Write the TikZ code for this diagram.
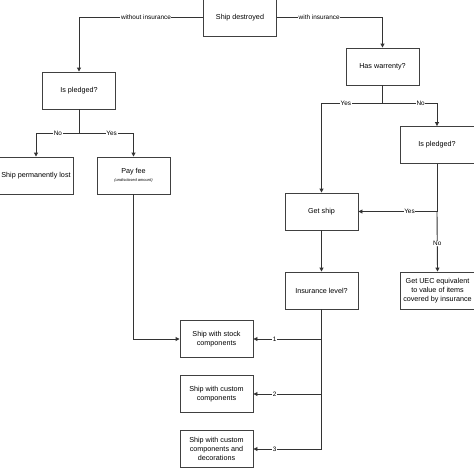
\documentclass[tikz,border=0pt]{standalone}
\usepackage{fontspec}
\setmainfont{Liberation Sans}
\usetikzlibrary{arrows.meta,calc}
\begin{document}
\begin{tikzpicture}[x=1pt,y=-1pt,
  box/.style={draw=black!75, line width=0.9pt, fill=white, minimum width=73pt, minimum height=37pt,
    inner sep=1pt, align=center, font=\fontsize{7.2}{9}\selectfont},
  conn/.style={draw=black!80, line width=0.9pt},
  arr/.style={conn, -{Triangle[length=4pt,width=4pt]}},
  lbl/.style={fill=white, inner sep=0.6pt, font=\fontsize{6.4}{7}\selectfont}]
\useasboundingbox (0,0) rectangle (474,467);
\fill[white] (0,0) rectangle (474,467);
\node[box] (sd) at (240,17.5) {Ship destroyed};
\node[box] (ip1) at (79,90.5) {Is pledged?};
\node[box] (hw) at (382.5,66.5) {Has warrenty?};
\node[box, minimum width=74pt] (spl) at (36,175.5) {Ship permanently lost};
\node[box] (pf) at (133.5,175.5) {Pay fee\\[-1pt]{\fontsize{4}{5}\selectfont\itshape (undisclosed amount)}};
\node[box, minimum width=74pt] (ip2) at (437,145) {Is pledged?};
\node[box] (gs) at (321.5,211.5) {Get ship};
\node[box] (il) at (321.5,290.5) {Insurance level?};
\node[box, minimum width=74pt] (uec) at (437.5,290.5) {Get UEC equivalent\\to value of items\\covered by insurance};
\node[box] (s1) at (216.5,339) {Ship with stock\\components};
\node[box] (s2) at (216.5,394) {Ship with custom\\components};
\node[box] (s3) at (216.5,449) {Ship with custom\\components and\\decorations};

\draw[arr] (sd.west) -| node[lbl,pos=0.23]{without insurance} (ip1.north);
\draw[arr] (sd.east) -| node[lbl,pos=0.2]{with insurance} (hw.north);

\coordinate (j1) at ($(ip1.south)+(0,24)$);
\draw[conn] (ip1.south) -- (j1);
\draw[arr] (j1) -| node[lbl,pos=0.245]{No} (spl.north);
\draw[arr] (j1) -| node[lbl,pos=0.3]{Yes} (pf.north);

\coordinate (j2) at ($(hw.south)+(0,18)$);
\draw[conn] (hw.south) -- (j2);
\draw[arr] (j2) -| node[lbl,pos=0.3]{Yes} (gs.north);
\draw[arr] (j2) -| node[lbl,pos=0.35]{No} (ip2.north);

\coordinate (j3) at (ip2.south |- gs.east);
\draw[conn] (ip2.south) -- (j3);
\draw[arr] (j3) -- node[lbl,pos=0.35]{Yes} (gs.east);
\draw[arr] (j3) -- node[lbl,pos=0.53]{No} (uec.north);

\draw[arr] (gs.south) -- (il.north);
\draw[arr] (pf.south) |- (s1.west);

\coordinate (k1) at (il.south |- s1.east);
\coordinate (k2) at (il.south |- s2.east);
\coordinate (k3) at (il.south |- s3.east);
\draw[conn] (il.south) -- (k3);
\draw[arr] (k1) -- node[lbl,pos=0.69]{1} (s1.east);
\draw[arr] (k2) -- node[lbl,pos=0.69]{2} (s2.east);
\draw[arr] (k3) -- node[lbl,pos=0.69]{3} (s3.east);
\end{tikzpicture}
\end{document}
